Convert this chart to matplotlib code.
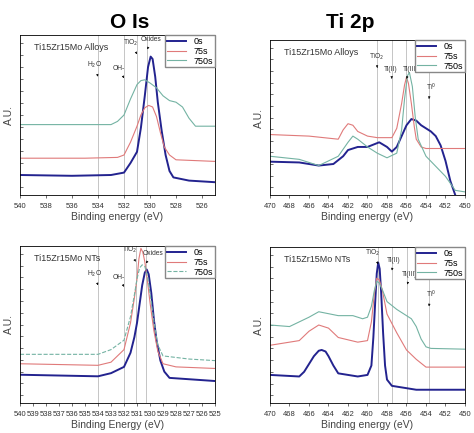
import numpy as np
import matplotlib
matplotlib.use('Agg')
import matplotlib.pyplot as plt

plt.rcParams['font.family'] = ['Liberation Sans', 'DejaVu Sans']

# ---- O 1s, alloys (binding energy, intensity) ----
o_al_0s_x = [540, 536, 533, 532, 531.5, 531, 530.7, 530.4, 530.15, 529.95, 529.8, 529.6, 529.4, 529.1, 528.8, 528.5, 528.2, 527, 525]
o_al_0s_y = [0.125, 0.12, 0.125, 0.14, 0.2, 0.27, 0.42, 0.62, 0.8, 0.865, 0.85, 0.74, 0.58, 0.4, 0.25, 0.15, 0.11, 0.09, 0.08]
o_al_75_x = [540, 535, 532.5, 532, 531.5, 531, 530.7, 530.4, 530.1, 529.8, 529.5, 529.2, 528.9, 528.5, 528, 525]
o_al_75_y = [0.23, 0.23, 0.235, 0.25, 0.33, 0.43, 0.5, 0.545, 0.56, 0.55, 0.49, 0.39, 0.3, 0.25, 0.22, 0.21]
o_al_750_x = [540, 535, 533, 532.5, 532, 531.5, 531, 530.7, 530.4, 530, 529.5, 529, 528.5, 528, 527.5, 527, 526.5, 525]
o_al_750_y = [0.44, 0.44, 0.44, 0.46, 0.5, 0.6, 0.69, 0.715, 0.72, 0.7, 0.67, 0.62, 0.59, 0.58, 0.55, 0.48, 0.43, 0.43]

# ---- Ti 2p, alloys ----
ti_al_0s_x = [470, 467, 465, 463.5, 462.5, 462, 461, 460, 458.8, 458, 457.5, 457, 456.5, 456, 455.5, 455, 454.5, 453.5, 453, 452.5, 452, 451.5, 451]
ti_al_0s_y = [0.215, 0.21, 0.19, 0.2, 0.25, 0.29, 0.31, 0.31, 0.34, 0.31, 0.28, 0.31, 0.38, 0.45, 0.49, 0.48, 0.45, 0.41, 0.38, 0.32, 0.22, 0.09, 0.0]
ti_al_75_x = [470, 466, 463, 462.5, 462, 461.5, 461, 460, 459, 457.5, 457, 456.5, 456.2, 456, 455.8, 455.5, 455.2, 455, 454.5, 454, 450]
ti_al_75_y = [0.39, 0.38, 0.36, 0.42, 0.46, 0.45, 0.41, 0.38, 0.37, 0.37, 0.43, 0.59, 0.71, 0.76, 0.72, 0.59, 0.44, 0.36, 0.31, 0.3, 0.3]
ti_al_750_x = [470, 467, 465, 463, 462, 461.5, 461, 460, 459, 458, 457, 456.5, 456.2, 455.9, 455.7, 455.4, 455.1, 454.8, 454, 452, 451, 450]
ti_al_750_y = [0.25, 0.23, 0.19, 0.25, 0.34, 0.38, 0.36, 0.31, 0.27, 0.24, 0.27, 0.42, 0.62, 0.77, 0.79, 0.7, 0.5, 0.36, 0.25, 0.12, 0.03, 0.02]

# ---- O 1s, nanotubes ----
o_nt_0s_x = [540, 534, 533, 532, 531.5, 531.2, 531, 530.8, 530.6, 530.4, 530.25, 530.1, 529.9, 529.7, 529.5, 529.2, 528.9, 528.5, 525]
o_nt_0s_y = [0.18, 0.17, 0.19, 0.23, 0.32, 0.42, 0.51, 0.63, 0.75, 0.83, 0.85, 0.82, 0.7, 0.53, 0.4, 0.27, 0.2, 0.16, 0.14]
o_nt_75_x = [540, 534, 533, 532, 531.5, 531.2, 531, 530.85, 530.7, 530.55, 530.4, 530.2, 530, 529.7, 529.4, 529, 528, 525]
o_nt_75_y = [0.25, 0.24, 0.26, 0.34, 0.51, 0.67, 0.79, 0.92, 0.985, 0.96, 0.9, 0.78, 0.64, 0.46, 0.33, 0.25, 0.23, 0.22]
o_nt_750_x = [540, 534, 533, 532, 531.5, 531.2, 531, 530.8, 530.6, 530.4, 530.2, 530, 529.7, 529.4, 529, 527, 525]
o_nt_750_y = [0.31, 0.31, 0.34, 0.40, 0.55, 0.69, 0.79, 0.86, 0.88, 0.87, 0.81, 0.70, 0.52, 0.37, 0.30, 0.28, 0.27]

# ---- Ti 2p, nanotubes ----
ti_nt_0s_x = [470, 467, 466.5, 466, 465.5, 465, 464.7, 464.3, 464, 463.5, 463, 461, 460, 459.6, 459.4, 459.2, 459.05, 458.9, 458.75, 458.6, 458.4, 458.2, 458, 457.5, 455, 450]
ti_nt_0s_y = [0.18, 0.17, 0.2, 0.25, 0.3, 0.335, 0.34, 0.33, 0.3, 0.24, 0.19, 0.17, 0.18, 0.24, 0.42, 0.66, 0.83, 0.9, 0.86, 0.71, 0.45, 0.24, 0.15, 0.11, 0.085, 0.085]
ti_nt_75_x = [470, 467, 466, 465, 464, 463, 461, 460, 459.6, 459.3, 459.05, 458.8, 458.5, 458, 457, 456, 455, 454, 450]
ti_nt_75_y = [0.37, 0.40, 0.46, 0.50, 0.48, 0.42, 0.39, 0.40, 0.52, 0.70, 0.80, 0.79, 0.73, 0.57, 0.45, 0.34, 0.28, 0.23, 0.23]
ti_nt_750_x = [470, 468, 466, 465, 463, 461.5, 460.5, 460, 459.6, 459.3, 459.05, 458.8, 458.5, 458, 457, 455.5, 455, 454.5, 454, 453.5, 450]
ti_nt_750_y = [0.50, 0.49, 0.55, 0.585, 0.56, 0.56, 0.54, 0.55, 0.62, 0.72, 0.78, 0.77, 0.73, 0.65, 0.60, 0.54, 0.49, 0.41, 0.36, 0.35, 0.345]

# reference lines and their labels: (position, label, label x, label y)
o_al_refs = [(534, 'H$_2$O', 534.3, 0.78), (532, 'OH-', 532.4, 0.77), (531, 'TiO$_2$', 531.5, 0.92), (530.2, 'Oxides', 529.9, 0.95)]
ti_al_refs = [(459, 'TiO$_2$', 459.1, 0.86), (457.5, 'Ti(II)', 457.6, 0.79), (456, 'Ti(III)', 455.6, 0.79), (453.7, 'Ti$^0$', 453.5, 0.66)]
o_nt_refs = [(534, 'H$_2$O', 534.3, 0.79), (532, 'OH-', 532.4, 0.78), (531.1, 'TiO$_2$', 531.6, 0.94), (530.3, 'Oxides', 529.8, 0.93)]
ti_nt_refs = [(458.9, 'TiO$_2$', 459.5, 0.93), (457.5, 'Ti(II)', 457.3, 0.89), (455.9, 'Ti(III)', 455.7, 0.80), (453.7, 'Ti$^0$', 453.5, 0.66)]

c0, c75, c750 = '#23238f', '#e07a7a', '#74b3a3'

fig = plt.figure(figsize=(4.74, 4.33), dpi=100)
W, H = 474, 433


def make_ax(l, t, r, b):
    return fig.add_axes([l / W, 1 - b / H, (r - l) / W, (b - t) / H])


def panel(ax, xlim, ticks, data, refs, name, xlabel, dashed750=False):
    (x0, y0), (x1, y1), (x2, y2) = data
    ax.plot(x0, y0, color=c0, lw=1.4, label='0s')
    ax.plot(x1, y1, color=c75, lw=0.8, label='75s')
    ax.plot(x2, y2, color=c750, lw=0.8, ls='--' if dashed750 else '-', label='750s')
    for pos, lab, lx, ly in refs:
        ax.axvline(pos, color='#bbbbbb', lw=0.6, zorder=0)
        ax.annotate(lab, xy=(pos, ly - 0.04), xytext=(lx, ly), fontsize=4.8,
                    ha='center', va='bottom', color='#333333',
                    arrowprops=dict(arrowstyle='-|>', color='k', lw=0.4, mutation_scale=3))
    ax.set_xlim(*xlim)
    ax.set_ylim(0, 1)
    ax.set_xticks(ticks)
    ax.set_yticks(np.linspace(0.05, 0.95, 13))
    ax.set_yticklabels([])
    ax.tick_params(labelsize=5.5, length=2, width=0.5, direction='out', colors='#333333')
    ax.tick_params(axis='y', direction='in')
    ax.set_xlabel(xlabel, fontsize=7.5, color='#444444', labelpad=2)
    ax.set_ylabel('A.U.', fontsize=7.5, color='#444444', labelpad=1)
    ax.text(0.07, 0.95, name, transform=ax.transAxes, fontsize=6.5, va='top', color='#333333')
    for s in ax.spines.values():
        s.set_linewidth(0.6)
    ax.legend(loc='upper right', fontsize=6.5, handlelength=2.2, borderpad=0.2,
              labelspacing=0.1, framealpha=1, edgecolor='#888888', fancybox=False,
              borderaxespad=0.0)


ax1 = make_ax(20, 35, 215, 195)
panel(ax1, (540, 525), np.arange(540, 525, -2),
      [(o_al_0s_x, o_al_0s_y), (o_al_75_x, o_al_75_y), (o_al_750_x, o_al_750_y)],
      o_al_refs, 'Ti15Zr15Mo Alloys', 'Binding energy (eV)')
ax2 = make_ax(270, 40, 465, 195)
panel(ax2, (470, 450), np.arange(470, 449, -2),
      [(ti_al_0s_x, ti_al_0s_y), (ti_al_75_x, ti_al_75_y), (ti_al_750_x, ti_al_750_y)],
      ti_al_refs, 'Ti15Zr15Mo Alloys', 'Binding energy (eV)')
ax3 = make_ax(20, 246, 215, 403)
panel(ax3, (540, 525), np.arange(540, 524, -1),
      [(o_nt_0s_x, o_nt_0s_y), (o_nt_75_x, o_nt_75_y), (o_nt_750_x, o_nt_750_y)],
      o_nt_refs, 'Ti15Zr15Mo NTs', 'Binding Energy (eV)', dashed750=True)
ax4 = make_ax(270, 247, 465, 403)
panel(ax4, (470, 450), np.arange(470, 449, -2),
      [(ti_nt_0s_x, ti_nt_0s_y), (ti_nt_75_x, ti_nt_75_y), (ti_nt_750_x, ti_nt_750_y)],
      ti_nt_refs, 'Ti15Zr15Mo NTs', 'Binding energy (eV)')

fig.text(130 / W, 1 - 22 / H, 'O Is', fontsize=15, fontweight='bold', ha='center', va='center')
fig.text(350 / W, 1 - 22 / H, 'Ti 2p', fontsize=15, fontweight='bold', ha='center', va='center')

fig.savefig('out.png', dpi=100)
